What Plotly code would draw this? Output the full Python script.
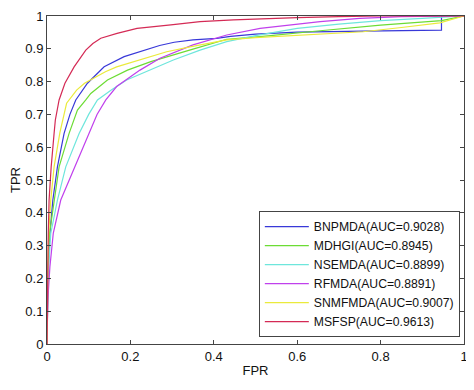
import plotly.graph_objects as go

names = ["BNPMDA(AUC=0.9028)", "MDHGI(AUC=0.8945)", "NSEMDA(AUC=0.8899)",
         "RFMDA(AUC=0.8891)", "SNMFMDA(AUC=0.9007)", "MSFSP(AUC=0.9613)"]
colors = ["#3838d8", "#6cdc34", "#6ee6dc", "#c040ec", "#eaea3c", "#d42a55"]

bnp_fpr = [0, 0.001, 0.003, 0.007, 0.014, 0.025, 0.041, 0.055, 0.069, 0.097, 0.137, 0.185, 0.233, 0.27, 0.305, 0.35, 0.407, 0.44, 0.5, 0.6, 0.758, 0.85, 0.946, 0.946, 1]
bnp_tpr = [0, 0.134, 0.236, 0.337, 0.439, 0.54, 0.642, 0.7, 0.744, 0.795, 0.845, 0.876, 0.896, 0.91, 0.92, 0.927, 0.932, 0.938, 0.945, 0.951, 0.954, 0.955, 0.957, 1.0, 1.0]

mdh_fpr = [0, 0.001, 0.003, 0.006, 0.017, 0.029, 0.053, 0.073, 0.093, 0.105, 0.145, 0.193, 0.249, 0.305, 0.35, 0.431, 0.511, 0.655, 0.8, 0.946, 1]
mdh_tpr = [0, 0.134, 0.236, 0.337, 0.439, 0.54, 0.642, 0.713, 0.744, 0.764, 0.805, 0.835, 0.861, 0.881, 0.899, 0.929, 0.937, 0.955, 0.972, 0.986, 1.0]

nse_fpr = [0, 0.001, 0.004, 0.009, 0.025, 0.045, 0.077, 0.1, 0.121, 0.155, 0.191, 0.247, 0.303, 0.367, 0.431, 0.5, 0.6, 0.7, 0.8, 0.9, 1]
nse_tpr = [0, 0.134, 0.236, 0.337, 0.439, 0.54, 0.642, 0.7, 0.744, 0.775, 0.805, 0.835, 0.866, 0.896, 0.922, 0.94, 0.962, 0.975, 0.986, 0.993, 1.0]

rfm_fpr = [0, 0.002, 0.007, 0.015, 0.033, 0.05, 0.069, 0.087, 0.103, 0.12, 0.141, 0.167, 0.223, 0.271, 0.35, 0.431, 0.511, 0.655, 0.75, 0.85, 1]
rfm_tpr = [0, 0.134, 0.236, 0.337, 0.439, 0.49, 0.545, 0.6, 0.645, 0.7, 0.744, 0.785, 0.835, 0.871, 0.912, 0.942, 0.962, 0.983, 0.993, 0.998, 1.0]

snm_fpr = [0, 0.0008, 0.002, 0.004, 0.009, 0.017, 0.031, 0.047, 0.071, 0.09, 0.111, 0.14, 0.167, 0.223, 0.287, 0.343, 0.407, 0.431, 0.5, 0.631, 0.758, 0.85, 0.942, 1]
snm_tpr = [0, 0.134, 0.236, 0.337, 0.439, 0.54, 0.645, 0.734, 0.774, 0.795, 0.81, 0.83, 0.845, 0.866, 0.891, 0.906, 0.922, 0.927, 0.934, 0.942, 0.952, 0.965, 0.979, 1.0]

msf_fpr = [0, 0.0005, 0.001, 0.003, 0.005, 0.01, 0.017, 0.02, 0.029, 0.043, 0.065, 0.093, 0.11, 0.129, 0.168, 0.216, 0.297, 0.367, 0.447, 0.52, 0.6, 0.7, 0.8, 1]
msf_tpr = [0, 0.134, 0.236, 0.337, 0.439, 0.54, 0.642, 0.683, 0.744, 0.795, 0.845, 0.896, 0.916, 0.932, 0.947, 0.962, 0.973, 0.983, 0.988, 0.992, 0.995, 0.998, 1.0, 1.0]

x_ticks = [0, 0.2, 0.4, 0.6, 0.8, 1]
x_labels = ["0", "0.2", "0.4", "0.6", "0.8", "1"]
y_ticks = [0, 0.1, 0.2, 0.3, 0.4, 0.5, 0.6, 0.7, 0.8, 0.9, 1]
y_labels = ["0", "0.1", "0.2", "0.3", "0.4", "0.5", "0.6", "0.7", "0.8", "0.9", "1"]

series = [(bnp_fpr, bnp_tpr), (mdh_fpr, mdh_tpr), (nse_fpr, nse_tpr),
          (rfm_fpr, rfm_tpr), (snm_fpr, snm_tpr), (msf_fpr, msf_tpr)]

FONT = "Liberation Sans, Arial, sans-serif"
fig = go.Figure()
for (fx, ty), nm, c in zip(series, names, colors):
    fig.add_trace(go.Scatter(x=fx, y=ty, mode="lines", name=nm,
                             line=dict(color=c, width=1.2)))

axcol = "#444444"
# page body has an 8px margin, so the figure is 466x382 and offset accordingly
fig.update_layout(
    width=466, height=382,
    margin=dict(l=39, r=10, t=8, b=46),
    paper_bgcolor="white", plot_bgcolor="white",
    font=dict(family=FONT, size=13, color="#111111"),
    showlegend=True,
    legend=dict(x=0.99, y=0.021, xanchor="right", yanchor="bottom",
                bgcolor="white", bordercolor=axcol, borderwidth=1,
                font=dict(family=FONT, size=12.2, color="#111111"),
                itemwidth=44, tracegroupgap=0),
    xaxis=dict(range=[0, 1], tickvals=x_ticks, ticktext=x_labels,
               automargin=False,
               showgrid=False, zeroline=False, showline=True, linecolor=axcol,
               linewidth=1, mirror="ticks", ticks="inside", ticklen=4,
               tickcolor=axcol, title=dict(text="FPR", standoff=3,
               font=dict(family=FONT, size=13))),
    yaxis=dict(range=[0, 1], tickvals=y_ticks, ticktext=y_labels,
               automargin=False,
               showgrid=False, zeroline=False, showline=True, linecolor=axcol,
               linewidth=1, mirror="ticks", ticks="inside", ticklen=4,
               tickcolor=axcol, title=dict(text="TPR", standoff=6,
               font=dict(family=FONT, size=13))),
)
fig.write_html("out.html")
